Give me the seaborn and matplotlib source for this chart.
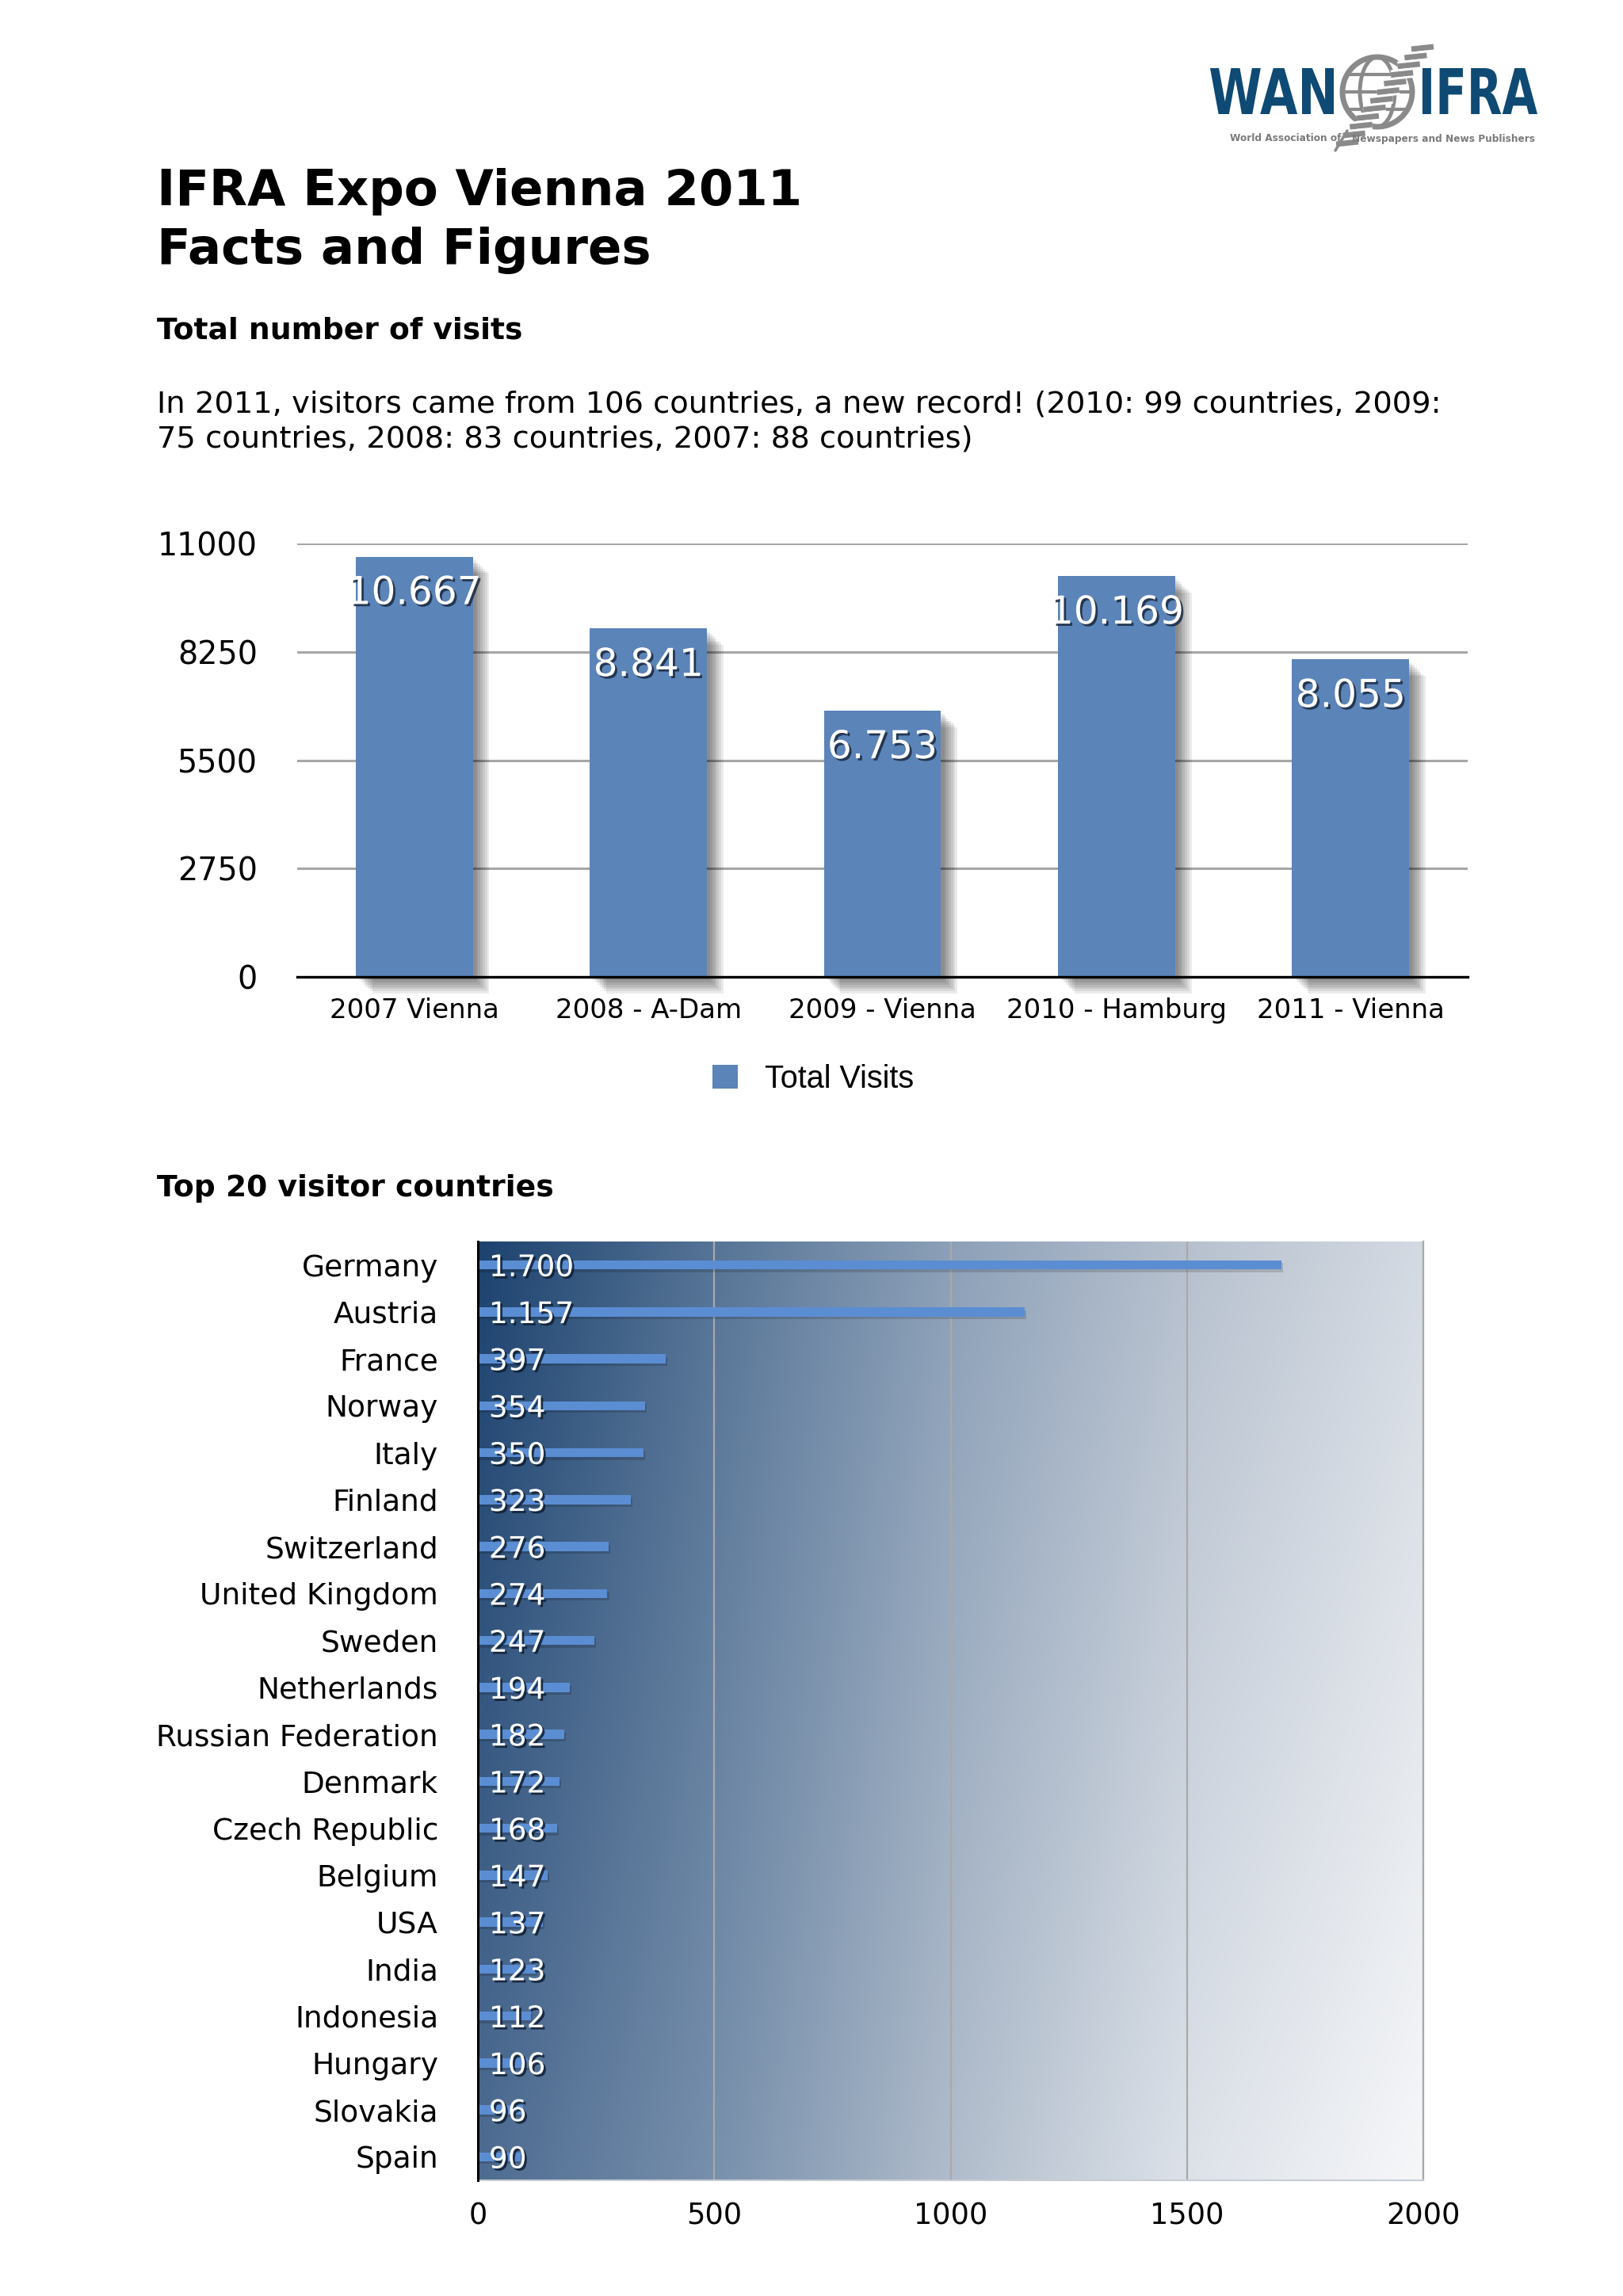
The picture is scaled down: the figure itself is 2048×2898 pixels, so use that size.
import numpy as np
import pandas as pd
import matplotlib
matplotlib.use("Agg")
import matplotlib.pyplot as plt
import matplotlib.patheffects as pe
from matplotlib.patches import Patch, PathPatch, Circle, Ellipse
from matplotlib.textpath import TextPath
from matplotlib.font_manager import FontProperties
from matplotlib.transforms import Affine2D
import seaborn as sns

# ---------------- data ----------------
years = ["2007 Vienna", "2008 - A-Dam", "2009 - Vienna", "2010 - Hamburg", "2011 - Vienna"]
visits = [10667, 8841, 6753, 10169, 8055]
visit_ticks = [0, 2750, 5500, 8250, 11000]

countries = ["Germany", "Austria", "France", "Norway", "Italy", "Finland", "Switzerland",
             "United Kingdom", "Sweden", "Netherlands", "Russian Federation", "Denmark",
             "Czech Republic", "Belgium", "USA", "India", "Indonesia", "Hungary",
             "Slovakia", "Spain"]
country_visits = [1700, 1157, 397, 354, 350, 323, 276, 274, 247, 194, 182, 172, 168,
                  147, 137, 123, 112, 106, 96, 90]
country_ticks = [0, 500, 1000, 1500, 2000]

# ---------------- style ----------------
sns.set_style("white")
plt.rcParams["font.family"] = ["DejaVu Sans"]
plt.rcParams["text.color"] = "black"
plt.rcParams["axes.labelcolor"] = "black"
plt.rcParams["xtick.color"] = "black"
plt.rcParams["ytick.color"] = "black"

W, H = 2048, 2898
fig = plt.figure(figsize=(W / 100, H / 100), dpi=100)
fig.patch.set_facecolor("white")


def fx(px):
    return px / W


def fy(py):
    return 1 - py / H


BAR_BLUE = "#5b84b8"
HBAR_BLUE = "#5b8dd3"

# ---------------- header texts ----------------
fig.text(fx(198), fy(259), "IFRA Expo Vienna 2011", fontsize=45, fontweight="bold",
         va="baseline", ha="left", color="black")
fig.text(fx(198), fy(333), "Facts and Figures", fontsize=45, fontweight="bold",
         va="baseline", ha="left", color="black")
fig.text(fx(198), fy(428), "Total number of visits", fontsize=27.1, fontweight="bold",
         va="baseline", ha="left", color="black")
fig.text(fx(198), fy(520),
         "In 2011, visitors came from 106 countries, a new record! (2010: 99 countries, 2009:",
         fontsize=27.7, va="baseline", ha="left", color="black")
fig.text(fx(198), fy(564), "75 countries, 2008: 83 countries, 2007: 88 countries)",
         fontsize=27.7, va="baseline", ha="left", color="black")
fig.text(fx(198), fy(1510), "Top 20 visitor countries", fontsize=27.2, fontweight="bold",
         va="baseline", ha="left", color="black")


# ---------------- logo ----------------
def text_box(s, x, y_top, w, h, color):
    tp = TextPath((0, 0), s, size=100,
                  prop=FontProperties(family="DejaVu Sans", weight="bold"))
    bb = tp.get_extents()
    tr = (Affine2D().translate(-bb.x0, -bb.y0)
          .scale(w / bb.width, h / bb.height)
          .translate(x, H - y_top - h))
    fig.add_artist(PathPatch(tp, transform=tr, facecolor=color, lw=0))


LOGO_BLUE = "#0e4a73"
LOGO_GRAY = "#8a8a8a"
text_box("WAN", 1527, 86, 156, 58, LOGO_BLUE)
text_box("IFRA", 1795, 86, 145, 58, LOGO_BLUE)

gcx, gcy, gr = 1738, H - 116, 44
fig.add_artist(Circle((gcx, gcy), gr, transform=None, fill=False,
                      edgecolor=LOGO_GRAY, lw=5))
fig.add_artist(Ellipse((gcx, gcy), gr * 1.0, gr * 2, transform=None, fill=False,
                       edgecolor=LOGO_GRAY, lw=3.5))
for dy in (-22, 0, 22):
    half = np.sqrt(gr ** 2 - dy ** 2)
    fig.add_artist(plt.Line2D([gcx - half, gcx + half], [gcy + dy, gcy + dy],
                              transform=None, color=LOGO_GRAY, lw=3))
# diagonal striped band
for k in range(12):
    t = k / 11
    cx = 1795 - t * 95
    cy = (H - 62) - t * 120
    fig.add_artist(plt.Line2D([cx - 14, cx + 14], [cy, cy + 3], transform=None,
                              color="white", lw=9, solid_capstyle="butt"))
    fig.add_artist(plt.Line2D([cx - 14, cx + 14], [cy, cy + 3], transform=None,
                              color=LOGO_GRAY, lw=5, solid_capstyle="butt"))
fig.add_artist(plt.Line2D([1700, 1685], [H - 165, H - 190], transform=None,
                          color=LOGO_GRAY, lw=2.5))
fig.text(fx(1552), fy(175), "World Association of", fontsize=8.7, fontweight="bold",
         color="#7a7a7a", va="center", ha="left")
fig.text(fx(1706), fy(175), "Newspapers and News Publishers", fontsize=8.7,
         fontweight="bold", color="#7a7a7a", va="center", ha="left")

# ---------------- chart 1: total visits ----------------
ax1 = fig.add_axes([fx(375), fy(1233), fx(1852) - fx(375), fy(686) - fy(1233)])
df1 = pd.DataFrame({"year": years, "visits": visits})
sns.barplot(data=df1, x="year", y="visits", color=BAR_BLUE, saturation=1,
            width=0.5, ax=ax1, zorder=3)
shadow = [pe.SimplePatchShadow(offset=(o, -o), shadow_rgbFace="black", alpha=0.08)
          for o in (3, 5, 7, 9, 11, 13, 15)] + [pe.Normal()]
for p in ax1.patches:
    p.set_path_effects(shadow)
    p.set_clip_on(False)
    p.set_edgecolor("none")
ax1.set_ylim(0, 11000)
ax1.set_xlim(-0.5, len(years) - 0.5)
ax1.set_yticks(visit_ticks)
ax1.set_yticklabels([str(t) for t in visit_ticks])
ax1.yaxis.grid(True, color="#a6a6a6", lw=2.2)
ax1.set_axisbelow(True)
ax1.tick_params(axis="y", length=0, pad=36, labelsize=28.5, labelcolor="black")
ax1.tick_params(axis="x", length=0, pad=19, labelsize=24.5, labelcolor="black")
ax1.set_xlabel("")
ax1.set_ylabel("")
for s in ("left", "right", "top"):
    ax1.spines[s].set_visible(False)
ax1.spines["bottom"].set_color("black")
ax1.spines["bottom"].set_linewidth(2.4)
ax1.spines["bottom"].set_zorder(4)
txt_shadow = [pe.SimplePatchShadow(offset=(2, -2), shadow_rgbFace="#1a2a40", alpha=0.85),
              pe.Normal()]
for i, v in enumerate(visits):
    ax1.annotate(f"{v:,}".replace(",", "."), xy=(i, v), xytext=(0, -33),
                 textcoords="offset points", ha="center", va="center",
                 color="white", fontsize=35, zorder=5, path_effects=txt_shadow)

fig.legend(handles=[Patch(facecolor=BAR_BLUE, edgecolor="none", label="Total Visits")],
           loc="center", bbox_to_anchor=(fx(1026), fy(1362)), frameon=False,
           prop=FontProperties(family="Liberation Sans", size=28.5),
           handlelength=0.8, handleheight=0.8, handletextpad=0.85,
           labelcolor="black")

# ---------------- chart 2: top 20 countries ----------------
ax2 = fig.add_axes([fx(603), fy(2752), fx(1796) - fx(603), fy(1567) - fy(2752)])

top_cols = np.array([[28, 66, 110], [86, 116, 150], [140, 160, 184],
                     [182, 192, 206], [212, 218, 226]]) / 255
bot_cols = np.array([[78, 108, 146], [120, 144, 172], [176, 188, 203],
                     [221, 226, 233], [246, 247, 249]]) / 255
nx, ny = 300, 200
xs = np.linspace(0, 1, nx)
stops = np.linspace(0, 1, len(top_cols))
top_row = np.stack([np.interp(xs, stops, top_cols[:, c]) for c in range(3)], axis=-1)
bot_row = np.stack([np.interp(xs, stops, bot_cols[:, c]) for c in range(3)], axis=-1)
ys = np.linspace(0, 1, ny)[:, None, None]
grad = top_row[None, :, :] * (1 - ys) + bot_row[None, :, :] * ys
ax2.imshow(grad, extent=[0, 2000, len(countries) - 0.5, -0.5], aspect="auto",
           zorder=0, interpolation="bilinear")

df2 = pd.DataFrame({"country": countries, "visits": country_visits})
sns.barplot(data=df2, x="visits", y="country", orient="h", color=HBAR_BLUE,
            saturation=1, width=0.19, ax=ax2, zorder=3)
hshadow = [pe.SimplePatchShadow(offset=(1.5, -2.5), shadow_rgbFace="black", alpha=0.15),
           pe.Normal()]
for p in ax2.patches:
    p.set_edgecolor("none")
    p.set_path_effects(hshadow)
ax2.set_xlim(0, 2000)
ax2.set_ylim(len(countries) - 0.5, -0.5)
ax2.set_xticks(country_ticks)
ax2.set_xticklabels([str(t) for t in country_ticks])
ax2.xaxis.grid(True, color="#a9a9a9", lw=1.6, zorder=1)
ax2.yaxis.grid(False)
ax2.tick_params(axis="x", length=0, pad=19, labelsize=26.5, labelcolor="black")
ax2.tick_params(axis="y", length=0, pad=36, labelsize=27, labelcolor="black")
ax2.set_xlabel("")
ax2.set_ylabel("")
ax2.spines["left"].set_color("black")
ax2.spines["left"].set_linewidth(2.2)
ax2.spines["left"].set_zorder(4)
ax2.spines["bottom"].set_color("#c8cdd4")
ax2.spines["bottom"].set_linewidth(1.5)
ax2.spines["top"].set_visible(False)
ax2.spines["right"].set_color("#a9a9a9")
ax2.spines["right"].set_linewidth(1.6)
lbl_shadow = [pe.SimplePatchShadow(offset=(2, -2), shadow_rgbFace="#0f1f33", alpha=0.85),
              pe.Normal()]
for i, v in enumerate(country_visits):
    ax2.annotate(f"{v:,}".replace(",", "."), xy=(0, i), xytext=(10, -3),
                 textcoords="offset points", ha="left", va="center",
                 color="white", fontsize=27, zorder=5, path_effects=lbl_shadow)

fig.savefig("out.png", dpi=100, facecolor="white")
